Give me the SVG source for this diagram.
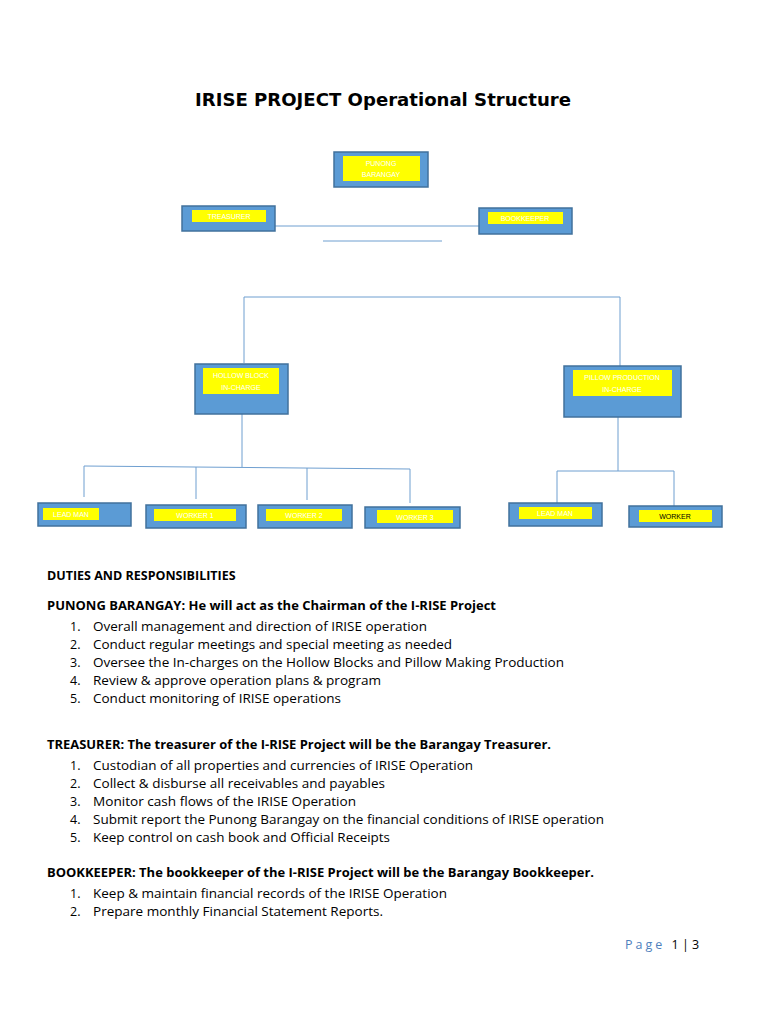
<svg xmlns="http://www.w3.org/2000/svg" width="768" height="1024" viewBox="0 0 768 1024">
<style>
.b{fill:#5b9bd5;stroke:#41719c;stroke-width:1.5}
.y{fill:#ffff00}
.l{fill:#fff;font-family:"Liberation Sans",sans-serif;font-size:7px;text-anchor:middle}
.c{stroke:#6f9fd0;stroke-width:1;fill:none}
.t{font-family:"Open Sans","Liberation Sans",sans-serif;font-size:12.5px;fill:#000}
.h{font-weight:bold}
</style>
<rect width="768" height="1024" fill="#fff"/>
<text x="383" y="106" text-anchor="middle" font-family="DejaVu Sans,sans-serif" font-weight="bold" font-size="17" textLength="376" lengthAdjust="spacingAndGlyphs">IRISE PROJECT Operational Structure</text>
<g id="connectors" class="c">
<path d="M275 226H479M323 241H442"/>
<path d="M244 363V297H620V366"/>
<path d="M242 414V467M84 497V466L410 469V503M196 499V467M307 500V468"/>
<path d="M618 417V471M557 503V471H674V506"/>
</g>
<g id="punong"><rect class="b" x="334" y="152" width="94" height="35"/><rect class="y" x="343" y="156" width="77" height="25"/><text class="l" x="381" y="166">PUNONG</text><text class="l" x="381" y="177">BARANGAY</text></g>
<g id="treasurer"><rect class="b" x="182" y="206" width="93" height="25"/><rect class="y" x="192" y="210" width="74" height="12"/><text class="l" x="229" y="219">TREASURER</text></g>
<g id="bookkeeper"><rect class="b" x="479" y="208" width="93" height="26"/><rect class="y" x="488" y="212" width="75" height="12"/><text class="l" x="525" y="221">BOOKKEEPER</text></g>
<g id="hollow"><rect class="b" x="195" y="364" width="93" height="50"/><rect class="y" x="203" y="368" width="76" height="26"/><text class="l" x="241" y="378">HOLLOW BLOCK</text><text class="l" x="241" y="390">IN-CHARGE</text></g>
<g id="pillow"><rect class="b" x="564" y="366" width="117" height="51"/><rect class="y" x="573" y="370" width="99" height="26"/><text class="l" x="622" y="380">PILLOW PRODUCTION</text><text class="l" x="622" y="392">IN-CHARGE</text></g>
<g id="leadman1"><rect class="b" x="38" y="503" width="93" height="23"/><rect class="y" x="43" y="508" width="56" height="12"/><text class="l" x="71" y="517">LEAD MAN</text></g>
<g id="worker1"><rect class="b" x="146" y="505" width="100" height="23"/><rect class="y" x="154" y="509" width="82" height="12"/><text class="l" x="195" y="518">WORKER 1</text></g>
<g id="worker2"><rect class="b" x="258" y="505" width="94" height="23"/><rect class="y" x="266" y="509" width="76" height="12"/><text class="l" x="304" y="518">WORKER 2</text></g>
<g id="worker3"><rect class="b" x="365" y="507" width="95" height="21"/><rect class="y" x="377" y="510" width="76" height="13"/><text class="l" x="415" y="520">WORKER 3</text></g>
<g id="leadman2"><rect class="b" x="509" y="503" width="93" height="23"/><rect class="y" x="519" y="507" width="73" height="12"/><text class="l" x="555" y="516">LEAD MAN</text></g>
<g id="worker"><rect class="b" x="629" y="506" width="93" height="21"/><rect class="y" x="639" y="510" width="73" height="12"/><text class="l" x="675" y="519" fill="#000" style="fill:#000">WORKER</text></g>
<g class="t">
<text class="h" x="47" y="580">DUTIES AND RESPONSIBILITIES</text>
<text class="h" x="47" y="610" textLength="449" lengthAdjust="spacingAndGlyphs">PUNONG BARANGAY: He will act as the Chairman of the I-RISE Project</text>
<text x="70" y="631">1.</text><text x="93" y="631" textLength="334" lengthAdjust="spacingAndGlyphs">Overall management and direction of IRISE operation</text>
<text x="70" y="649">2.</text><text x="93" y="649" textLength="359" lengthAdjust="spacingAndGlyphs">Conduct regular meetings and special meeting as needed</text>
<text x="70" y="667">3.</text><text x="93" y="667" textLength="471" lengthAdjust="spacingAndGlyphs">Oversee the In-charges on the Hollow Blocks and Pillow Making Production</text>
<text x="70" y="685">4.</text><text x="93" y="685" textLength="288" lengthAdjust="spacingAndGlyphs">Review &amp; approve operation plans &amp; program</text>
<text x="70" y="703">5.</text><text x="93" y="703" textLength="248" lengthAdjust="spacingAndGlyphs">Conduct monitoring of IRISE operations</text>
<text class="h" x="47" y="749" textLength="504" lengthAdjust="spacingAndGlyphs">TREASURER: The treasurer of the I-RISE Project will be the Barangay Treasurer.</text>
<text x="70" y="770">1.</text><text x="93" y="770" textLength="380" lengthAdjust="spacingAndGlyphs">Custodian of all properties and currencies of IRISE Operation</text>
<text x="70" y="788">2.</text><text x="93" y="788" textLength="292" lengthAdjust="spacingAndGlyphs">Collect &amp; disburse all receivables and payables</text>
<text x="70" y="806">3.</text><text x="93" y="806" textLength="263" lengthAdjust="spacingAndGlyphs">Monitor cash flows of the IRISE Operation</text>
<text x="70" y="824">4.</text><text x="93" y="824" textLength="511" lengthAdjust="spacingAndGlyphs">Submit report the Punong Barangay on the financial conditions of IRISE operation</text>
<text x="70" y="842">5.</text><text x="93" y="842" textLength="297" lengthAdjust="spacingAndGlyphs">Keep control on cash book and Official Receipts</text>
<text class="h" x="47" y="877" textLength="547" lengthAdjust="spacingAndGlyphs">BOOKKEEPER: The bookkeeper of the I-RISE Project will be the Barangay Bookkeeper.</text>
<text x="70" y="898">1.</text><text x="93" y="898" textLength="354" lengthAdjust="spacingAndGlyphs">Keep &amp; maintain financial records of the IRISE Operation</text>
<text x="70" y="916">2.</text><text x="93" y="916" textLength="290" lengthAdjust="spacingAndGlyphs">Prepare monthly Financial Statement Reports.</text>
</g>
<text x="625" y="949" font-family="Open Sans,Liberation Sans,sans-serif" font-size="12.5" fill="#4f81bd" letter-spacing="3">Page <tspan fill="#000" letter-spacing="0">1 | 3</tspan></text>
</svg>
